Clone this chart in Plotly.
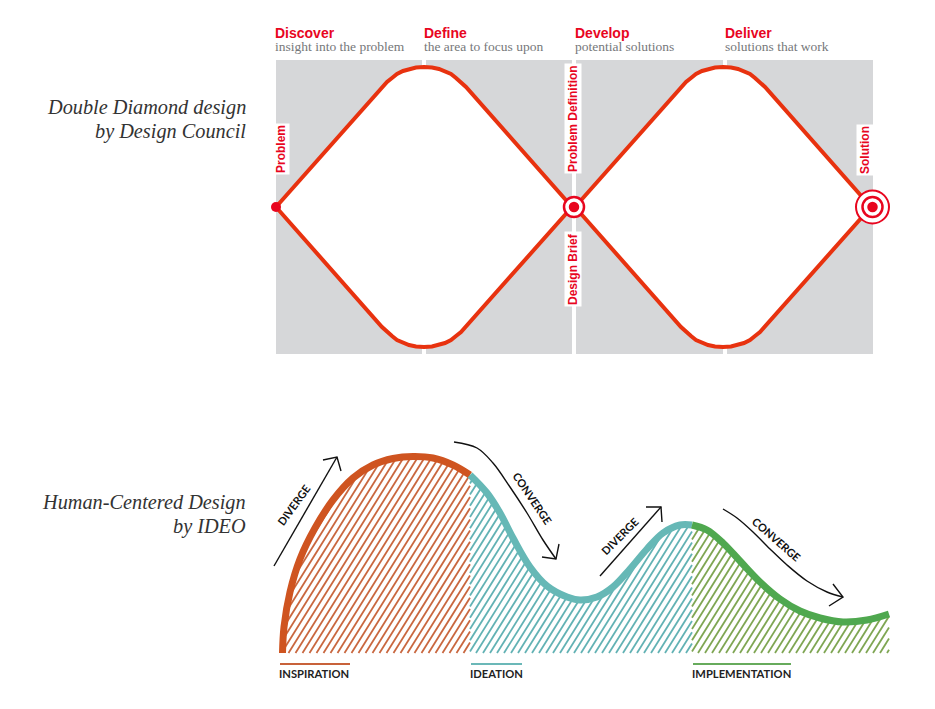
import numpy as np
import plotly.graph_objects as go

# Everything in page pixels, y going down
panel_x0 = [276, 426, 576, 727]
panel_x1 = [422, 572, 723, 873]
panel_top = 60
panel_bottom = 354

# one diamond, relative to its centre
diamond_dx = [-148, -42, -37, -32, -27, -21, -15, -8, 0, 8, 15, 21, 27, 32, 37, 42, 148,
              42, 37, 32, 27, 21, 15, 8, 0, -8, -15, -21, -27, -32, -37, -42, -148]
diamond_dy = [0, -120, -125, -129, -133, -136, -138, -139.5, -140, -139.5, -138, -136, -133, -129, -125, -120, 0,
              120, 125, 129, 133, 136, 138, 139.5, 140, 139.5, 138, 136, 133, 129, 125, 120, 0]
diamond_cx = [424, 723]
diamond_cy = 207

phases = ["Discover", "Define", "Develop", "Deliver"]
phase_notes = ["insight into the problem", "the area to focus upon", "potential solutions", "solutions that work"]
phase_x = [273, 422, 573, 723]

side_labels = ["Problem", "Problem Definition", "Design Brief", "Solution"]
side_x = [281, 573, 573, 865]
side_y = [149, 119, 269, 150]

inspiration_x = [282.5, 284, 290, 300, 315, 333, 353, 373, 393, 413, 433, 453, 470]
inspiration_y = [653, 627, 592, 559, 528, 500, 478, 465, 458.5, 456.5, 458, 465, 475]
ideation_x = [470, 487, 500, 513, 530, 547, 567, 580, 597, 613, 630, 647, 663, 680, 692]
ideation_y = [475, 493, 513, 538, 567, 586, 597, 600, 597, 587, 569, 549, 533, 525, 525]
implementation_x = [692, 707, 723, 740, 760, 780, 800, 820, 843, 867, 889]
implementation_y = [525, 530, 543, 561, 582, 599, 611, 618, 622, 620, 614]
baseline = 653

stage_names = ["INSPIRATION", "IDEATION", "IMPLEMENTATION"]
stage_start = [280, 471, 693]
stage_end = [350, 522, 791]
stage_line = ["#c8623a", "#6bb8b8", "#67ab5c"]
stage_stroke = ["#cf5420", "#66b8b6", "#4fa84f"]
stage_hatch = ["#c9673f", "#62b2b4", "#7fa653"]

arrow_curves = [
    ([274, 337], [566, 457]),
    ([454, 477, 493, 510, 527, 543, 556], [442, 448, 463, 487, 513, 540, 559]),
    ([600, 661], [576, 507]),
    ([723, 737, 753, 770, 787, 807, 827, 843], [509, 518, 532, 549, 565, 581, 592, 597]),
]
arrow_heads = [
    ([323, 337, 341], [460, 457, 471]),
    ([542, 556, 559], [557, 559, 544]),
    ([646, 661, 662], [507, 507, 522]),
    ([833, 843, 829], [584, 597, 606]),
]
arrow_words = ["DIVERGE", "CONVERGE", "DIVERGE", "CONVERGE"]
word_x = [293, 533, 619, 777]
word_y = [505, 498, 536, 539]
word_angle = [-54, 56, -45, 41]

RED = "#e8061f"
LINE_RED = "#e8320f"

fig = go.Figure()

# grey panels
for x0, x1 in zip(panel_x0, panel_x1):
    fig.add_shape(type="rect", x0=x0, x1=x1, y0=panel_top, y1=panel_bottom,
                  fillcolor="#d6d7d9", line_width=0, layer="below")

# diamonds
for cx in diamond_cx:
    fig.add_trace(go.Scatter(
        x=[cx + d for d in diamond_dx],
        y=[diamond_cy + d for d in diamond_dy],
        mode="lines", fill="toself", fillcolor="white",
        line=dict(color=LINE_RED, width=4),
    ))

# start dot and the two targets
fig.add_trace(go.Scatter(x=[276], y=[207], mode="markers",
                         marker=dict(size=10, color=RED)))
fig.add_trace(go.Scatter(x=[872.5], y=[207], mode="markers",
                         marker=dict(size=33, color="white", line=dict(color=RED, width=2))))
fig.add_trace(go.Scatter(x=[574, 872.5], y=[207, 207], mode="markers",
                         marker=dict(size=20, color="white", line=dict(color=RED, width=2.5))))
fig.add_trace(go.Scatter(x=[574, 872.5], y=[207, 207], mode="markers",
                         marker=dict(size=10.5, color=RED)))

# hatching and thick curve, one stage at a time
curves = [(inspiration_x, inspiration_y), (ideation_x, ideation_y), (implementation_x, implementation_y)]
for (cx, cy), hatch, stroke in zip(curves, stage_hatch, stage_stroke):
    hx, hy = [], []
    for start in np.arange(cx[0] - 260, cx[-1], 7):
        t = np.linspace(0, 260, 521)
        xs = start + t
        ys = baseline - 1.6 * t
        inside = (xs >= cx[0]) & (xs <= cx[-1]) & (ys >= np.interp(xs, cx, cy))
        if inside.any():
            hx += [xs[inside][0], xs[inside][-1], None]
            hy += [ys[inside][0], ys[inside][-1], None]
    fig.add_trace(go.Scatter(x=hx, y=hy, mode="lines", line=dict(color=hatch, width=1.8)))
    fig.add_trace(go.Scatter(x=cx, y=cy, mode="lines",
                             line=dict(color=stroke, width=7, shape="spline")))

# arrows
for (ax, ay), (hx, hy) in zip(arrow_curves, arrow_heads):
    fig.add_trace(go.Scatter(x=ax, y=ay, mode="lines",
                             line=dict(color="#111111", width=1.4, shape="spline")))
    fig.add_trace(go.Scatter(x=hx, y=hy, mode="lines", line=dict(color="#111111", width=1.4)))

# stage rules
for x0, x1, col in zip(stage_start, stage_end, stage_line):
    fig.add_trace(go.Scatter(x=[x0, x1], y=[664, 664], mode="lines", line=dict(color=col, width=2)))

annos = []
for name, note, x in zip(phases, phase_notes, phase_x):
    annos.append(dict(x=x, y=33, text=f"<b>{name}</b>", xanchor="left", yanchor="middle",
                      font=dict(family="Liberation Sans", size=14, color=RED)))
    annos.append(dict(x=x, y=46.5, text=note, xanchor="left", yanchor="middle",
                      font=dict(family="Liberation Serif", size=13.5, color="#76787a")))
for name, x, y in zip(side_labels, side_x, side_y):
    annos.append(dict(x=x, y=y, text=f"<b>{name}</b>", textangle=-90, bgcolor="white",
                      font=dict(family="Liberation Sans", size=12, color=RED), borderpad=1))
for word, x, y, ang in zip(arrow_words, word_x, word_y, word_angle):
    annos.append(dict(x=x, y=y, text=f"<b>{word}</b>", textangle=ang,
                      font=dict(family="Lato", size=11, color="#111111")))
for name, x in zip(stage_names, stage_start):
    annos.append(dict(x=x - 3, y=673.5, text=f"<b>{name}</b>", xanchor="left", yanchor="middle",
                      font=dict(family="Lato", size=11.2, color="#222222")))
for line, y in [("Double Diamond design", 107), ("by Design Council", 131),
                ("Human-Centered Design", 502), ("by IDEO", 526)]:
    annos.append(dict(x=248, y=y, text=f"<i>{line}</i>", xanchor="right", yanchor="middle",
                      font=dict(family="Liberation Serif", size=20.3, color="#333333")))
for a in annos:
    a.update(showarrow=False, xref="x", yref="y")

fig.update_layout(
    width=935, height=709,
    margin=dict(l=0, r=0, t=0, b=0),
    paper_bgcolor="white", plot_bgcolor="white",
    showlegend=False,
    xaxis=dict(range=[0, 935], visible=False),
    yaxis=dict(range=[709, 0], visible=False),
    annotations=annos,
)
fig.write_html("out.html", config=dict(displayModeBar=False),
               post_script="document.body.style.margin='0';")
